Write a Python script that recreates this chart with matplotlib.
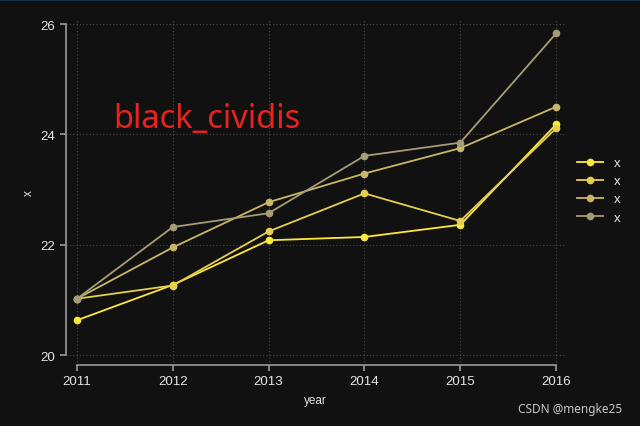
import matplotlib
matplotlib.use('Agg')
import matplotlib.pyplot as plt
from matplotlib.lines import Line2D

years = [2011, 2012, 2013, 2014, 2015, 2016]

s1 = [20.63, 21.27, 22.08, 22.14, 22.36, 24.18]
s2 = [21.02, 21.26, 22.24, 22.93, 22.43, 24.11]
s3 = [21.02, 21.95, 22.77, 23.29, 23.75, 24.50]
s4 = [21.02, 22.32, 22.57, 23.61, 23.85, 25.83]

series = [s1, s2, s3, s4]
labels = ['x', 'x', 'x', 'x']
colors = ['#fde838', '#e6cf4e', '#c8b766', '#a69d76']

yticks = [20, 22, 24, 26]

bg = '#111111'
plt.rcParams['font.family'] = ['Liberation Sans', 'DejaVu Sans']

fig = plt.figure(figsize=(6.4, 4.27), dpi=100)
fig.patch.set_facecolor(bg)
ax = fig.add_axes([0.103, 0.143, 0.78, 0.81])
ax.set_facecolor(bg)

for vals, c in zip(series, colors):
    ax.plot(years, vals, color=c, lw=1.3, marker='o', ms=4.5, mec=c, mfc=c)

ax.set_xlim(2010.885, 2016.094)
ax.set_ylim(19.82, 26.09)
ax.set_xticks(years)
ax.set_yticks(yticks)

ax.grid(True, color='#4a4a4a', ls=(0, (1, 2)), lw=0.8)
ax.set_axisbelow(True)

for side in ['top', 'right']:
    ax.spines[side].set_visible(False)
ax.spines['left'].set_bounds(20, 26)
ax.spines['bottom'].set_bounds(2011, 2016)
for side in ['left', 'bottom']:
    ax.spines[side].set_color('#9a9a9a')
    ax.spines[side].set_linewidth(1.2)

ax.tick_params(axis='both', colors='#9a9a9a', labelcolor='#e6e6e6',
               labelsize=9.5, length=4, width=1.2)

ax.set_xlabel('year', color='#e0e0e0', fontsize=8.5, labelpad=5)
ax.set_ylabel('x', color='#e0e0e0', fontsize=8.5, labelpad=4)

handles = [Line2D([], [], color=c, lw=1.3, marker='o', ms=4.5) for c in colors]
leg = ax.legend(handles, labels, loc='center left', bbox_to_anchor=(1.0, 0.505),
                frameon=False, fontsize=9.5, labelcolor='#e6e6e6',
                handlelength=2.0, handletextpad=0.8, labelspacing=0.45)

fig.text(0.177, 0.72, 'black_cividis', color='#e8231d', fontsize=23.5,
         family=['Noto Sans', 'DejaVu Sans'], va='center')
fig.text(0.972, 0.04, 'CSDN @mengke25', color='#c8c8c8', fontsize=8.5,
         ha='right', va='center', family=['Noto Sans', 'DejaVu Sans'])

fig.add_artist(Line2D([0, 1], [0.997, 0.997], transform=fig.transFigure,
                      color='#12324a', lw=1.5))

fig.savefig('out.png', dpi=100, facecolor=bg)
